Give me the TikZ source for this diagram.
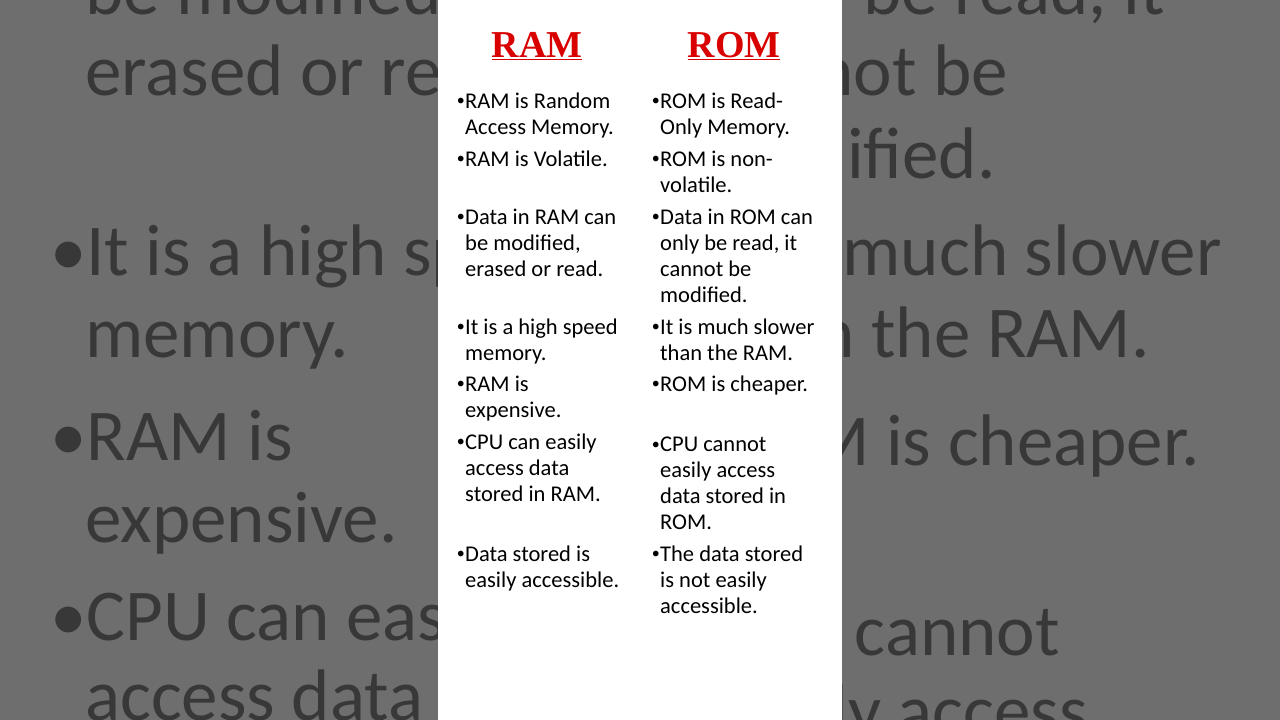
\documentclass[tikz,border=0pt]{standalone}
\usepackage{fontspec}
\setmainfont{Carlito}
\newfontfamily\headfont{Liberation Serif}
\begin{document}
\begin{tikzpicture}[x=1pt,y=-1pt,
  bg/.style={anchor=base west,text=black!78,font=\fontsize{73}{73}\selectfont,inner sep=0},
  bgr/.style={anchor=base east,text=black!78,font=\fontsize{73}{73}\selectfont,inner sep=0},
  item/.style={anchor=north west,align=left,inner sep=0,font=\fontsize{22.5}{26}\selectfont,text=black},
  dot/.style={anchor=east,inner sep=0,font=\fontsize{16}{16}\selectfont,text=black},
  head/.style={inner sep=0,font=\headfont\bfseries\fontsize{38}{38}\selectfont,text=red!85!black}]
\fill[black!57] (0,0) rectangle (1280,720);
\useasboundingbox (0,0) rectangle (1280,720);
% blurred background text
\node[bg] (b1) at (85,14) {be modified};
\node[bg] (b2) at (85,95) {erased or read.};
\node[bg] (b3) at (50,275) {•It is a high speed};
\node[bg] (b4) at (85,357) {memory.};
\node[bg] (b5) at (50,460) {•RAM is};
\node[bg] (b6) at (85,542) {expensive.};
\node[bg] (b7) at (50,640) {•CPU can easily};
\node[bg] (b8) at (85,720) {access data};
\node[bgr] (c1) at (1165,14) {be read, it};
\node[bgr] (c2) at (1008,95) {cannot be};
\node[bgr] (c3) at (996,178) {modified.};
\node[bgr] (c4) at (1222,275) {much slower};
\node[bgr] (c5) at (1150,357) {than the RAM.};
\node[bgr] (c6) at (1200,465) {ROM is cheaper.};
\node[bgr] (c7) at (1060,655) {cannot};
\node[bgr] (c8) at (1088,735) {easily access};
% panel
\fill[white] (438,0) rectangle (842,720);
\node[head] (h1) at (537,46) {\underline{RAM}};
\node[head] (h2) at (734,46) {\underline{ROM}};
\foreach \y/\t [count=\i] in {93/{RAM is Random\\Access Memory.},151/{RAM is Volatile.},209/{Data in RAM can\\be modified,\\erased or read.},319/{It is a high speed\\memory.},376/{RAM is\\expensive.},434/{CPU can easily\\access data\\stored in RAM.},546/{Data stored is\\easily accessible.}}{
  \node[item] (l\i) at (465,\y) {\t};
  \node[dot] (ld\i) at ([yshift=-9]l\i.north west) {•};}
\foreach \y/\t [count=\i] in {93/{ROM is Read-\\Only Memory.},151/{ROM is non-\\volatile.},209/{Data in ROM can\\only be read, it\\cannot be\\modified.},319/{It is much slower\\than the RAM.},376/{ROM is cheaper.},437/{CPU cannot\\easily access\\data stored in\\ROM.},546/{The data stored\\is not easily\\accessible.}}{
  \node[item] (r\i) at (660,\y) {\t};
  \node[dot] (rd\i) at ([yshift=-9]r\i.north west) {•};}
\end{tikzpicture}
\end{document}
